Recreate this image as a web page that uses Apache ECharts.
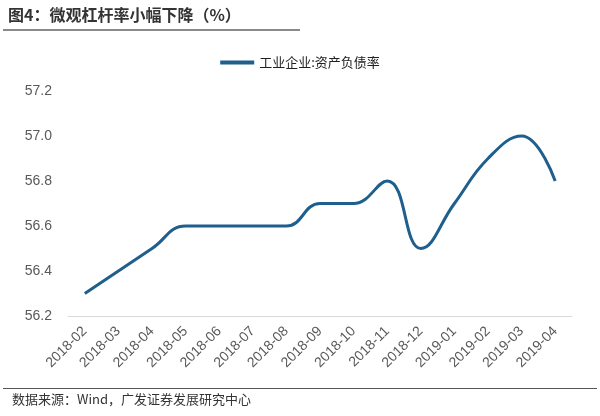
<!DOCTYPE html>
<html>
<head>
<meta charset="utf-8">
<title>微观杠杆率</title>
<script src="https://cdn.jsdelivr.net/npm/echarts@6/dist/echarts.min.js"></script>
<style>
  html, body { margin: 0; padding: 0; background: #fff; }
  #chart { width: 600px; height: 416px; }
</style>
</head>
<body>
<div id="chart"></div>
<script>
var months = ['2018-02', '2018-03', '2018-04', '2018-05', '2018-06', '2018-07', '2018-08',
  '2018-09', '2018-10', '2018-11', '2018-12', '2019-01', '2019-02', '2019-03', '2019-04'];
var debtRatio = [56.3, 56.4, 56.5, 56.6, 56.6, 56.6, 56.6, 56.7, 56.7, 56.8, 56.5, 56.7, 56.9, 57.0, 56.8];
var seriesName = '工业企业:资产负债率';

var chart = echarts.init(document.getElementById('chart'));
chart.setOption({
  animation: false,
  textStyle: { fontFamily: '"Noto Sans CJK SC", "Liberation Sans", sans-serif' },
  graphic: [
    { type: 'text', left: 8, top: 7,
      style: { text: '图4：微观杠杆率小幅下降（%）', fontSize: 16, fontWeight: 'bold', fill: '#333',
        fontFamily: '"Noto Sans CJK SC", sans-serif' } },
    { type: 'rect', shape: { x: 3, y: 29, width: 297, height: 2 }, style: { fill: '#8a8a8a' } },
    { type: 'rect', shape: { x: 3, y: 388, width: 594, height: 1 }, style: { fill: '#555' } },
    { type: 'text', left: 12, top: 393,
      style: { text: '数据来源：Wind，广发证券发展研究中心', fontSize: 13, fill: '#333',
        fontFamily: '"Noto Sans CJK SC", sans-serif' } }
  ],
  legend: {
    top: 51,
    left: 'center',
    itemWidth: 34,
    itemHeight: 4,
    icon: 'rect',
    textStyle: { fontSize: 13, color: '#222' },
    data: [seriesName]
  },
  grid: { left: 68, right: 28, top: 91, bottom: 100 },
  xAxis: {
    type: 'category',
    data: months,
    boundaryGap: true,
    axisLine: { lineStyle: { color: '#d9d9d9' } },
    axisTick: { show: false },
    axisLabel: { rotate: 45, color: '#595959', fontSize: 14, margin: 13, interval: 0,
      fontFamily: '"Liberation Sans", Arial, sans-serif' }
  },
  yAxis: {
    type: 'value',
    min: 56.2,
    max: 57.2,
    interval: 0.2,
    axisLine: { show: false },
    axisTick: { show: false },
    splitLine: { show: false },
    axisLabel: { color: '#595959', fontSize: 14, margin: 16,
      fontFamily: '"Liberation Sans", Arial, sans-serif',
      formatter: function (v) { return v.toFixed(1); } }
  },
  series: [{
    name: seriesName,
    type: 'line',
    smooth: 0.45,
    data: debtRatio,
    symbol: 'none',
    itemStyle: { color: '#1f5f8e' },
    lineStyle: { color: '#1f5f8e', width: 3 }
  }]
});
</script>
</body>
</html>
